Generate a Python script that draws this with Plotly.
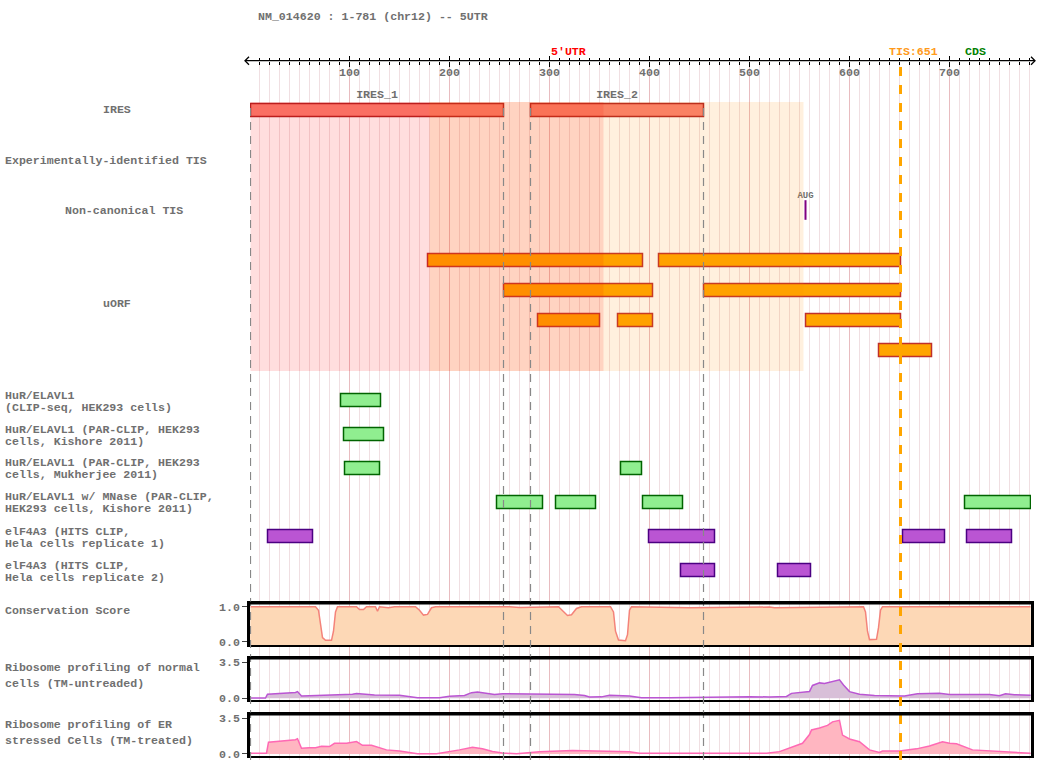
import plotly.graph_objects as go

# ---- data (nucleotide positions, 1-based) ----
transcript_len = 781
tis_pos = 651
title_text = "NM_014620 : 1-781 (chr12) -- 5UTR"

ires_names = ["IRES_1", "IRES_2"]
ires_start = [1, 281]
ires_end = [254, 454]

# shaded regions behind the feature tracks
shade_start = [1, 180]
shade_end = [354, 554]

uorf_rows = [
    [(178, 393), (409, 651)],
    [(254, 403), (454, 651)],
    [(288, 350), (368, 403), (556, 651)],
    [(629, 682)],
]

aug_pos = [556]

hur_clip = [(91, 131)]
hur_par_kishore = [(94, 134)]
hur_par_mukherjee = [(95, 130), (371, 392)]
hur_mnase = [(247, 293), (306, 346), (393, 433), (715, 781)]
eif_rep1 = [(18, 63), (399, 465), (653, 695), (717, 762)]
eif_rep2 = [(431, 465), (528, 561)]

cons_pos = [1, 66, 69, 71, 73, 76, 82, 84, 86, 88, 107, 110, 114, 117, 126, 128, 130, 139, 145,
            166, 170, 174, 178, 182, 186, 260, 270, 309, 313, 318, 322, 327, 332, 361, 364, 366,
            369, 376, 378, 380, 382, 430, 440, 520, 525, 614, 616, 618, 620, 627, 629, 631, 633, 781]
cons_val = [1.0, 1.0, 0.9, 0.5, 0.12, 0.04, 0.04, 0.3, 0.85, 1.0, 1.0, 0.92, 0.92, 1.0, 1.0, 0.87, 1.0, 0.97, 1.0,
            1.0, 0.9, 0.76, 0.78, 0.97, 1.0, 1.0, 0.98, 1.0, 0.9, 0.75, 0.77, 0.95, 1.0, 1.0, 0.85, 0.3,
            0.05, 0.03, 0.2, 0.9, 1.0, 0.99, 0.97, 0.99, 0.97, 1.0, 0.85, 0.3, 0.06, 0.07, 0.4, 0.9, 1.0, 1.0]

ribo_pos = [1, 16, 18, 30, 46, 48, 52, 60, 75, 95, 103, 107, 115, 125, 150, 163, 168, 190, 200, 215,
            222, 228, 238, 245, 253, 270, 285, 300, 325, 335, 340, 352, 360, 380, 392, 420, 440, 447,
            470, 500, 520, 537, 542, 555, 560, 563, 570, 575, 583, 590, 594, 600, 610, 625, 655, 668,
            690, 700, 740, 750, 756, 765, 781]
ribo_normal = [0.02, 0.02, 0.4, 0.45, 0.57, 0.65, 0.22, 0.25, 0.3, 0.35, 0.4, 0.47, 0.38, 0.32, 0.3, 0.16,
               0.06, 0.05, 0.2, 0.28, 0.55, 0.62, 0.45, 0.38, 0.45, 0.45, 0.38, 0.4, 0.38, 0.28, 0.12,
               0.14, 0.3, 0.22, 0.05, 0.05, 0.08, 0.12, 0.18, 0.16, 0.13, 0.18, 0.48, 0.6, 0.65, 1.25,
               1.5, 1.45, 1.65, 1.8, 1.3, 0.65, 0.4, 0.28, 0.22, 0.45, 0.5, 0.38, 0.38, 0.25, 0.45,
               0.35, 0.3]

stress_pos = [1, 17, 19, 30, 46, 48, 52, 60, 66, 72, 80, 85, 97, 107, 113, 122, 130, 137, 150, 163,
              168, 187, 200, 210, 223, 233, 243, 253, 267, 290, 323, 357, 380, 390, 517, 530, 540,
              553, 560, 562, 570, 578, 583, 590, 593, 600, 610, 620, 630, 633, 650, 667, 680, 693,
              700, 707, 723, 740, 757, 781]
ribo_stress = [0.07, 0.07, 1.15, 1.25, 1.4, 1.5, 0.56, 0.6, 0.62, 0.75, 0.73, 1.05, 1.05, 1.22, 0.85,
               0.85, 0.58, 0.4, 0.3, 0.15, 0.02, 0.02, 0.22, 0.4, 0.65, 0.5, 0.25, 0.1, 0.02, 0.22,
               0.33, 0.3, 0.22, 0.07, 0.07, 0.23, 0.56, 1.05, 1.9, 2.35, 2.55, 2.8, 3.15, 3.3, 1.85,
               1.47, 1.2, 0.4, 0.15, 0.29, 0.3, 0.5, 0.78, 1.2, 1.05, 1.0, 0.4, 0.3, 0.16, 0.07]

# ---- layout helpers (page pixels -> paper) ----
W, H = 1050, 768
L, R = 250, 19
PW = W - L - R


def px(x):
    return (x - L) / PW


def py(y):
    return 1 - y / H


FONT = "Liberation Mono"
GRAY = "#707070"
XR = [0.5, transcript_len + 0.5]
BAR_H = 6.5

# track centre rows (main axis is in page-pixel rows)
Y_IRES = 110
Y_UORF = [260, 290, 320, 350]
Y_AUG = 210
tracks = [
    (400, hur_clip, "#90ee90", "#006400"),
    (434, hur_par_kishore, "#90ee90", "#006400"),
    (468, hur_par_mukherjee, "#90ee90", "#006400"),
    (502, hur_mnase, "#90ee90", "#006400"),
    (536, eif_rep1, "#ba55d3", "#4b0082"),
    (570, eif_rep2, "#ba55d3", "#4b0082"),
]

fig = go.Figure()

# ---- bottom panels ----
fig.add_trace(go.Scatter(x=[XR[0], XR[1]], y=[-0.094, -0.094], mode="lines", line=dict(width=0),
                         xaxis="x2", yaxis="y2", showlegend=False, hoverinfo="skip"))
fig.add_trace(go.Scatter(x=cons_pos, y=cons_val, mode="lines", fill="tonexty",
                         fillcolor="#fdd8b6", line=dict(color="#f4837a", width=1.5),
                         xaxis="x2", yaxis="y2", showlegend=False))
fig.add_trace(go.Scatter(x=ribo_pos, y=ribo_normal, mode="lines", fill="tozeroy",
                         fillcolor="#d8bfd8", line=dict(color="#ba55d3", width=1.5),
                         xaxis="x3", yaxis="y3", showlegend=False))
fig.add_trace(go.Scatter(x=stress_pos, y=ribo_stress, mode="lines", fill="tozeroy",
                         fillcolor="#ffb6c1", line=dict(color="#ff69b4", width=1.5),
                         xaxis="x4", yaxis="y4", showlegend=False))

# ---- IRES labels and AUG mark ----
fig.add_trace(go.Scatter(x=[(s + e) / 2 for s, e in zip(ires_start, ires_end)],
                         y=[Y_IRES - 15] * len(ires_names), mode="text", text=ires_names,
                         textfont=dict(family=FONT, size=11.6, color=GRAY, weight="bold"),
                         showlegend=False, hoverinfo="skip"))
fig.add_trace(go.Scatter(x=aug_pos, y=[Y_AUG] * len(aug_pos), mode="markers+text", text=["AUG"],
                         textposition="top center",
                         textfont=dict(family=FONT, size=9, color=GRAY, weight="bold"),
                         marker=dict(symbol="line-ns", size=14, line=dict(color="purple", width=2)),
                         xaxis="x5", yaxis="y", showlegend=False))

shapes = []


def bar(x0, x1, yc, fill, edge, lw=1.5):
    shapes.append(dict(type="rect", xref="x", yref="y", x0=x0, x1=x1, y0=yc - BAR_H, y1=yc + BAR_H,
                       fillcolor=fill, line=dict(color=edge, width=lw), layer="above"))


for s, e in zip(ires_start, ires_end):
    bar(s, e, Y_IRES, "#fa8072", "#b22222")
for yc, row in zip(Y_UORF, uorf_rows):
    for s, e in row:
        bar(s, e, yc, "#ffa500", "#c0302a")
for yc, feats, fill, edge in tracks:
    for s, e in feats:
        bar(s, e, yc, fill, edge)

# shaded regions
shapes.append(dict(type="rect", xref="x", yref="y", x0=shade_start[0], x1=shade_end[0], y0=102, y1=371,
                   fillcolor="rgba(255,0,0,0.13)", line=dict(width=0), layer="above"))
shapes.append(dict(type="rect", xref="x", yref="y", x0=shade_start[1], x1=shade_end[1], y0=102, y1=371,
                   fillcolor="rgba(255,140,0,0.13)", line=dict(width=0), layer="above"))

# IRES boundary dashed lines
for xb in sorted(set(ires_start + ires_end)):
    shapes.append(dict(type="line", xref="x", yref="paper", x0=xb, x1=xb, y0=py(760), y1=py(102),
                       line=dict(color="#888888", width=1.2, dash="8px,6px"), layer="above"))
# TIS line
shapes.append(dict(type="line", xref="x", yref="paper", x0=tis_pos, x1=tis_pos, y0=py(760), y1=py(61),
                   line=dict(color="#ffa500", width=3, dash="9px,9px"), layer="above"))

# axis line with arrows
ya = py(60.7)
shapes.append(dict(type="line", xref="paper", yref="paper", x0=px(245), x1=px(1035), y0=ya, y1=ya,
                   line=dict(color="black", width=1.3)))
for tip, back in [(245, 249), (1035, 1031)]:
    shapes.append(dict(type="path", xref="paper", yref="paper",
                       path=f"M {px(back)} {ya + 4 / H} L {px(tip)} {ya} L {px(back)} {ya - 4 / H}",
                       line=dict(color="black", width=1.3)))

# thicker top edge on each panel
for top in (603, 658, 714):
    shapes.append(dict(type="line", xref="paper", yref="paper", x0=0, x1=1, y0=py(top), y1=py(top),
                       line=dict(color="black", width=3)))

# (text, left x px, line centre y px, colour)
labels = [
    ("IRES", 101, 110),
    ("Experimentally-identified TIS", 3, 160),
    ("Non-canonical TIS", 63, 210),
    ("uORF", 101, 304),
    ("HuR/ELAVL1", 3, 395), ("(CLIP-seq, HEK293 cells)", 3, 407),
    ("HuR/ELAVL1 (PAR-CLIP, HEK293", 3, 429), ("cells, Kishore 2011)", 3, 441),
    ("HuR/ELAVL1 (PAR-CLIP, HEK293", 3, 462.5), ("cells, Mukherjee 2011)", 3, 474.5),
    ("HuR/ELAVL1 w/ MNase (PAR-CLIP,", 3, 496.5), ("HEK293 cells, Kishore 2011)", 3, 508.5),
    ("elF4A3 (HITS CLIP,", 3, 531), ("Hela cells replicate 1)", 3, 543),
    ("elF4A3 (HITS CLIP,", 3, 565), ("Hela cells replicate 2)", 3, 577),
    ("Conservation Score", 3, 610),
    ("Ribosome profiling of normal", 3, 667), ("cells (TM-untreaded)", 3, 683),
    ("Ribosome profiling of ER", 3, 724.5), ("stressed Cells (TM-treated)", 3, 740.5),
]

ann_list = [dict(text=title_text, xref="paper", x=px(256), y=py(16), xanchor="left", color=GRAY)]
ann_list += [dict(text=t, xref="paper", x=px(x), y=py(y), xanchor="left", color=GRAY) for t, x, y in labels]
ann_list += [
    dict(text="5'UTR", xref="x", x=319, y=py(51), xanchor="center", color="red"),
    dict(text="TIS:651", xref="x", x=664, y=py(51), xanchor="center", color="#ff9a1a"),
    dict(text="CDS", xref="x", x=726, y=py(51), xanchor="center", color="green"),
]
annotations = []
for a in ann_list:
    color = a.pop("color")
    annotations.append(dict(yref="paper", showarrow=False, yanchor="middle",
                            font=dict(family=FONT, size=11.6, color=color, weight="bold"), **a))

tickfont = dict(family=FONT, size=11.6, color=GRAY, weight="bold")
grid_major = "#e8bcc0"
grid_minor = "#f0dfe2"


def panel_x(anchor):
    return dict(range=XR, anchor=anchor, showline=True, mirror=True, linecolor="black", linewidth=2,
                showticklabels=False, ticks="", showgrid=False, zeroline=False)


def panel_y(anchor, dom, rng, vals, labels):
    return dict(domain=[py(dom[1]), py(dom[0])], range=rng, anchor=anchor, showline=True, mirror=True,
                linecolor="black", linewidth=2.5, ticks="outside", ticklen=5, tickcolor="#444",
                tickvals=vals, ticktext=labels, tickfont=tickfont, showgrid=False, zeroline=False)


fig.update_layout(
    width=W, height=H,
    margin=dict(l=L, r=R, t=0, b=0),
    template="none",
    paper_bgcolor="white",
    plot_bgcolor="rgba(0,0,0,0)",
    showlegend=False,
    xaxis=dict(range=XR, anchor="free", position=ya, side="bottom", showline=False,
               tick0=0, dtick=100, ticks="outside", ticklen=5, tickwidth=1.2, tickcolor="black",
               ticklabelstandoff=-5,
               tickfont=tickfont, showgrid=True, gridcolor=grid_major, gridwidth=1, zeroline=False,
               minor=dict(dtick=10, tick0=0, ticks="outside", ticklen=3, tickwidth=1.2, tickcolor="black",
                          showgrid=True, gridcolor=grid_minor, gridwidth=1)),
    xaxis5=dict(range=XR, overlaying="x", anchor="free", position=ya, side="bottom", showline=False,
                tick0=0, dtick=100, ticks="inside", ticklen=5, tickwidth=1.2, tickcolor="black",
                showticklabels=False, showgrid=False, zeroline=False,
                minor=dict(dtick=10, tick0=0, ticks="inside", ticklen=3, tickwidth=1.2, tickcolor="black",
                           showgrid=False)),
    yaxis=dict(domain=[py(760), py(62)], range=[760, 62], visible=False, showgrid=False, zeroline=False),
    xaxis2=panel_x("y2"), xaxis3=panel_x("y3"), xaxis4=panel_x("y4"),
    yaxis2=panel_y("x2", (603, 645), [-0.094, 1.106], [0, 1], ["0.0", "1.0"]),
    yaxis3=panel_y("x3", (658, 700), [-0.165, 3.92], [0, 3.5], ["0.0", "3.5"]),
    yaxis4=panel_y("x4", (714, 756), [-0.2, 3.92], [0, 3.5], ["0.0", "3.5"]),
    shapes=shapes,
    annotations=annotations,
)

fig.write_html("out.html", config={"displayModeBar": False},
               post_script="document.body.style.margin='0';")
